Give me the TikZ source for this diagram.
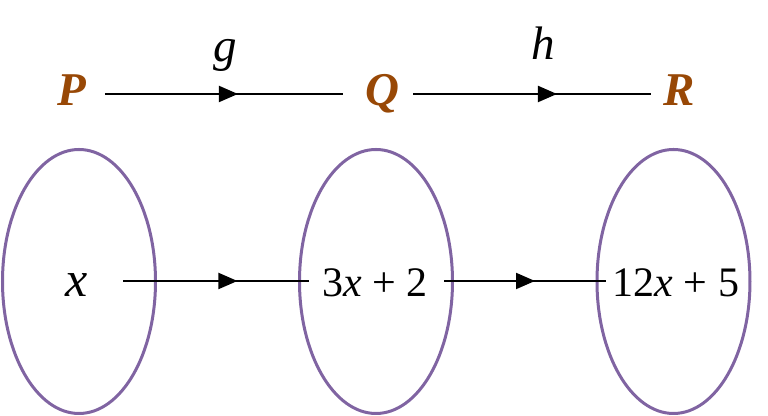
\documentclass[tikz,border=0pt]{standalone}
\usepackage{fontspec}
\setmainfont{Liberation Serif}
\usetikzlibrary{arrows.meta,decorations.markings,shapes.geometric}
\definecolor{setpurple}{HTML}{8064A2}
\definecolor{setbrown}{HTML}{984806}

\begin{document}
\begin{tikzpicture}[x=0.5pt,y=0.5pt,
  setname/.style={text=setbrown,font=\fontsize{23.5}{28}\selectfont\bfseries\itshape,
    inner sep=0pt,text height=12pt,text depth=0pt},
  fname/.style={font=\fontsize{23.5}{28}\selectfont\itshape,inner sep=0pt,anchor=base},
  elem/.style={font=\fontsize{21}{25}\selectfont,inner sep=0pt,text height=16pt,text depth=0pt},
  setring/.style={draw=setpurple,line width=1.5pt,ellipse,inner sep=0pt,
    minimum width=76.5pt,minimum height=132pt},
  maparrow/.style={line width=1pt,postaction={decorate},
    decoration={markings,mark=at position #1 with {\arrow{Triangle[length=9.5pt,width=8pt]}}}}]
  \useasboundingbox (0,0) rectangle (768,416);

  % the three sets
  \node[setring] (ringP) at (79,134.5) {};
  \node[setring] (ringQ) at (376,134.5) {};
  \node[setring] (ringR) at (673.5,134.5) {};

  % set names and maps
  \node[setname] (P) at (72,322) {P};
  \node[setname] (Q) at (382,322) {Q};
  \node[setname] (R) at (679,322) {R};
  \node[fname] (g) at (225,354) {g};
  \node[fname] (h) at (543,356) {h};
  \draw[maparrow=0.544,shorten <=9pt,shorten >=11pt] (P) -- (Q);
  \draw[maparrow=0.598,shorten <=7pt,shorten >=6pt] (Q) -- (R);

  % elements
  \node[elem,font=\fontsize{25}{30}\selectfont\itshape] (x) at (77,135) {x};
  \node[elem] (gx) at (375,135) {3\textit{x} + 2};
  \node[elem] (hgx) at (676,135) {12\textit{x} + 5};
  \draw[maparrow=0.638,shorten <=17.5pt,shorten >=6.5pt] (x) -- (gx);
  \draw[maparrow=0.58,shorten <=8pt,shorten >=3pt] (gx) -- (hgx);
\end{tikzpicture}
\end{document}
